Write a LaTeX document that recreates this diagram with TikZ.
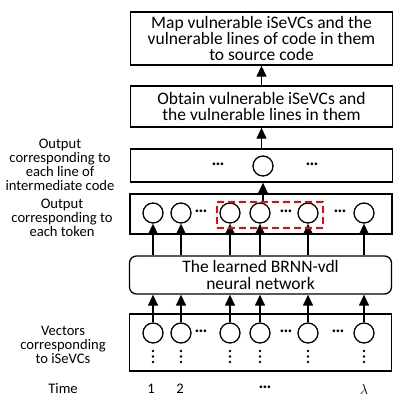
\documentclass[tikz,border=0pt]{standalone}
\usepackage{fontspec}
\setmainfont{Carlito}
\usetikzlibrary{arrows.meta}
\newcommand\tdots{{\fontsize{18}{18}\selectfont\textbf{\textellipsis}}}

\tikzset{
  box/.style={draw, line width=1.3pt, minimum width=262pt, inner sep=0pt, align=center, font=\fontsize{17.5}{16.3}\selectfont},
  cell/.style={draw, circle, line width=1.3pt, minimum size=20pt, inner sep=0pt},
  side/.style={align=center, font=\fontsize{14.6}{13.8}\selectfont},
  up/.style={line width=1.3pt, -{Triangle[length=11pt,width=10pt]}},
}

\begin{document}
\begin{tikzpicture}[x=1pt, y=-1pt]
			%%%%% START %%%%%
			\useasboundingbox (0,0) rectangle (402,408);
			
			\node[box, minimum height=53pt] (map) at (261.5, 38.5) {Map vulnerable iSeVCs and the\\vulnerable lines of code in them\\to source code};
			\node[box, minimum height=41pt] (obtain) at (261.5, 106.5) {Obtain vulnerable iSeVCs and\\the vulnerable lines in them};
			\node[box, minimum height=33pt] (linebox) at (261.5, 165.5) {};
			\node[box, minimum height=40pt] (tokbox) at (261, 214) {};
			\node[box, minimum height=38pt, rounded corners=7pt] (brnn) at (260.5, 275) {The learned BRNN-vdl\\neural network};
			\node[box, minimum height=57pt] (vecbox) at (260.5, 342.5) {};
			
			\draw[up] (obtain) -- (map);
			\draw[up] (linebox) -- (obtain);
			
			\node[cell] (lc) at (263, 166) {};
			\node (ld1) at (218, 164) {\tdots};
			\node (ld2) at (312, 164) {\tdots};
			
			\foreach \x [count=\i] in {153, 181, 230, 260, 308, 364} {
				\node[cell] (t\i) at (\x, 213) {};
				\node[cell] (v\i) at (\x, 333) {};
				\draw[up] (brnn.north -| t\i) -- (t\i);
				\draw[up] (v\i) -- (v\i |- brnn.south);
				\foreach \d in {18, 23.5, 29}
					\fill (v\i.center) ++(0, \d) circle (1.4);
			}
			
			\foreach \x [count=\i] in {201, 286, 340} {
				\node (td\i) at (\x, 211) {\tdots};
			}
			\foreach \x [count=\i] in {201, 286, 338} {
				\node (vd\i) at (\x, 331) {\tdots};
			}
			
			\node[draw=red, line width=1.5pt, dash pattern=on 7pt off 4pt, minimum width=106pt, minimum height=26pt] (sel) at (270, 215) {};
			\draw[up] (sel.north -| lc) -- (lc |- linebox.south);
			
			\node[side] (lbl1) at (60, 165) {Output\\corresponding to\\each line of\\intermediate code};
			\node[side] (lbl2) at (62, 218) {Output\\corresponding to\\each token};
			\node[side] (lbl3) at (63, 345) {Vectors\\corresponding\\to iSeVCs};
			
			\node[side] (time) at (63, 389) {Time};
			\node[side] (n1) at (151, 389) {1};
			\node[side] (n2) at (180, 389) {2};
			\node[side] (nd) at (265, 387) {\tdots};
			\node[side] (nl) at (364, 389) {$\lambda$};
			%%%%% END %%%%%
\end{tikzpicture}
\end{document}
